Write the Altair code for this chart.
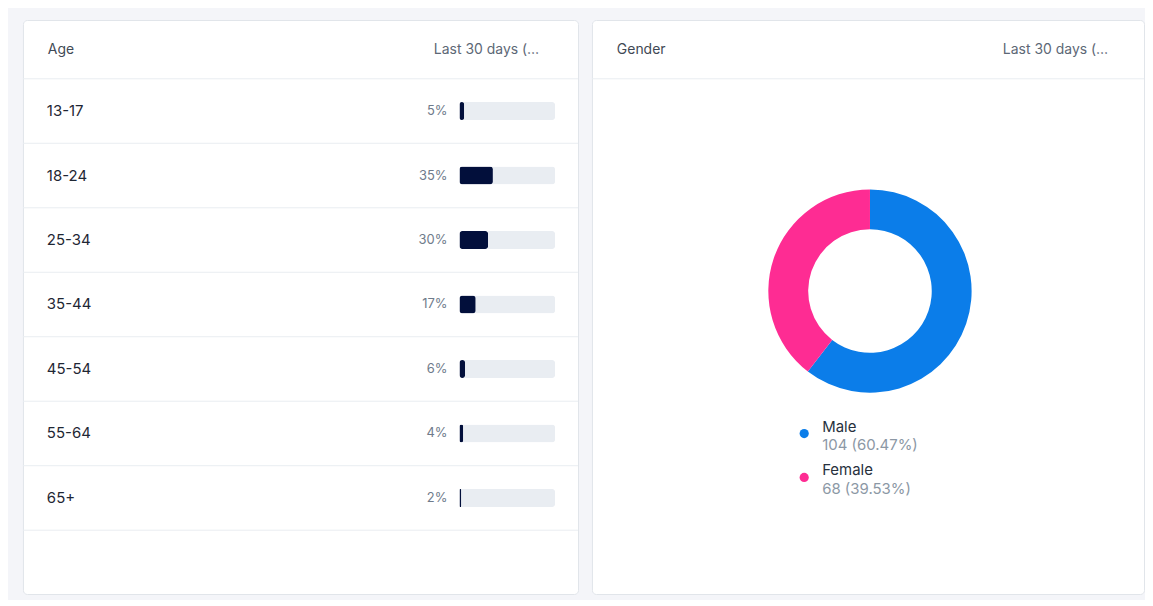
import altair as alt
import pandas as pd

# ---- data ----
ages = ["13-17", "18-24", "25-34", "35-44", "45-54", "55-64", "65+"]
age_pct = [5, 35, 30, 17, 6, 4, 2]
genders = ["Male", "Female"]
gender_counts = [104, 68]
age_title = "Age"
gender_title = "Gender"
period_label = "Last 30 days (\u2026"

FONT = "Inter"
CARD_W_L, CARD_W_R, CARD_H = 557, 554, 576
HEADER_H = 59
ROWS_END = 512

age_df = pd.DataFrame({"age": ages, "pct": age_pct})
age_df["full"] = 100
age_df["zero"] = 0
age_df["label"] = age_df["pct"].astype(str) + "%"
age_df["is_last"] = [a == ages[-1] for a in ages]

total = sum(gender_counts)
g_df = pd.DataFrame({"gender": genders, "count": gender_counts, "order": list(range(len(genders)))})
g_df["value_label"] = [f"{c} ({c / total * 100:.2f}%)" for c in gender_counts]

# ---- left card: Age ----
y_scale = alt.Scale(type="band", domain=ages, range=[HEADER_H, ROWS_END], paddingInner=0, paddingOuter=0)
y_age = alt.Y("age:N", sort=ages, scale=y_scale, axis=None)
x_scale = alt.Scale(domain=[0, 100], range=[438, 534], nice=False, zero=True)
SEP = "#e9edf1"

base_age = alt.Chart(age_df)
seps = base_age.mark_rule(color=SEP, strokeWidth=1).encode(
    y=alt.Y("age:N", sort=ages, scale=y_scale, axis=None, bandPosition=0),
    x=alt.value(0), x2=alt.value(CARD_W_L),
)
sep_end = base_age.transform_filter("datum.is_last").mark_rule(color=SEP, strokeWidth=1).encode(
    y=alt.Y("age:N", sort=ages, scale=y_scale, axis=None, bandPosition=1),
    x=alt.value(0), x2=alt.value(CARD_W_L),
)
age_labels = base_age.mark_text(
    align="left", baseline="middle", font=FONT, fontSize=15, color="#1f2734"
).encode(x=alt.value(24), y=y_age, text="age:N")
track = base_age.mark_bar(color="#e9edf2", cornerRadius=3, size=18).encode(
    x=alt.X("full:Q", scale=x_scale, axis=None), y=y_age
)
bars = base_age.mark_bar(color="#020f3b", cornerRadius=3, size=18).encode(
    x=alt.X("pct:Q", scale=x_scale, axis=None), y=y_age
)
pct_text = base_age.mark_text(
    align="right", baseline="middle", dx=-12, font=FONT, fontSize=13, color="#6f7b8b"
).encode(x=alt.X("zero:Q", scale=x_scale, axis=None), y=y_age, text="label:N")

hdr_l = pd.DataFrame({"t": [age_title]})
hdr_r = pd.DataFrame({"t": [period_label]})
age_head = alt.Chart(hdr_l).mark_text(
    align="left", baseline="middle", font=FONT, fontSize=14, color="#3f4955"
).encode(x=alt.value(25), y=alt.value(30), text="t:N")
age_period = alt.Chart(hdr_r).mark_text(
    align="right", baseline="middle", font=FONT, fontSize=14, color="#5d6876"
).encode(x=alt.value(518), y=alt.value(30), text="t:N")

left = alt.layer(seps, sep_end, track, bars, pct_text, age_labels, age_head, age_period).properties(
    width=CARD_W_L, height=CARD_H
)

# ---- right card: Gender ----
color = alt.Color(
    "gender:N", scale=alt.Scale(domain=genders, range=["#0b7de9", "#fe2c93"]), legend=None
)
donut = alt.Chart(g_df).mark_arc(outerRadius=102, innerRadius=62).encode(
    theta=alt.Theta("count:Q", stack=True),
    color=color,
    order=alt.Order("order:Q"),
    x=alt.value(279),
    y=alt.value(272),
)
y_leg = alt.Y("gender:N", scale=alt.Scale(type="point", domain=genders, range=[415, 459], padding=0), axis=None)
dots = alt.Chart(g_df).mark_circle(size=85, opacity=1).encode(
    x=alt.value(213), y=y_leg, color=color
)
names = alt.Chart(g_df).mark_text(
    align="left", baseline="middle", dy=-7, font=FONT, fontSize=15, color="#28313d"
).encode(x=alt.value(231), y=y_leg, text="gender:N")
vals = alt.Chart(g_df).mark_text(
    align="left", baseline="middle", dy=12, font=FONT, fontSize=15, color="#8c98a5"
).encode(x=alt.value(231), y=y_leg, text="value_label:N")

sep = alt.Chart(pd.DataFrame({"a": [0]})).mark_rule(color=SEP, strokeWidth=1).encode(
    x=alt.value(0), x2=alt.value(CARD_W_R), y=alt.value(HEADER_H)
)
g_head = alt.Chart(pd.DataFrame({"t": [gender_title]})).mark_text(
    align="left", baseline="middle", font=FONT, fontSize=14, color="#3f4955"
).encode(x=alt.value(25), y=alt.value(30), text="t:N")
g_period = alt.Chart(hdr_r).mark_text(
    align="right", baseline="middle", font=FONT, fontSize=14, color="#5d6876"
).encode(x=alt.value(518), y=alt.value(30), text="t:N")

right = alt.layer(sep, donut, dots, names, vals, g_head, g_period).properties(
    width=CARD_W_R, height=CARD_H
)

chart = (
    alt.hconcat(left, right, spacing=12)
    .properties(padding={"left": 14, "top": 10, "right": 0, "bottom": 4}, background="#f4f5f9")
    .configure_view(fill="white", stroke="#e1e5ea", strokeWidth=1, cornerRadius=4)
)

chart.save("out.html", embed_options={"renderer": "svg", "actions": False})
